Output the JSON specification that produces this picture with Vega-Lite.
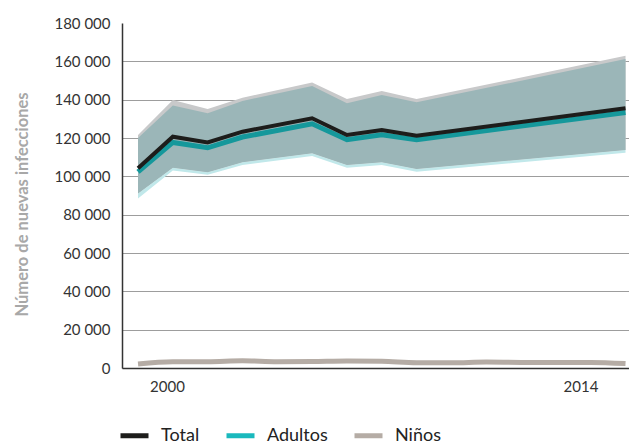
{
  "$schema": "https://vega.github.io/schema/vega-lite/v6.json",
  "width": 507,
  "height": 345,
  "autosize": {"type": "none"},
  "padding": {"left": 122, "top": 23, "right": 0, "bottom": 73},
  "background": "white",
  "config": {
    "view": {"stroke": null},
    "font": "Lato",
    "locale": {"number": {"decimal": ",", "thousands": " ", "grouping": [3], "currency": ["", " €"]}},
    "axis": {"labelFont": "Lato", "titleFont": "Lato"}
  },
  "datasets": {
    "bands": [
      {"year": 2000, "hiT": 121600, "hiA": 120000, "loA": 91100, "loC": 88500},
      {"year": 2001, "hiT": 139800, "hiA": 136900, "loA": 104500, "loC": 103000},
      {"year": 2002, "hiT": 135100, "hiA": 132900, "loA": 102100, "loC": 100800},
      {"year": 2003, "hiT": 141000, "hiA": 139300, "loA": 107300, "loC": 105900},
      {"year": 2005, "hiT": 149000, "hiA": 147100, "loA": 112000, "loC": 110600},
      {"year": 2006, "hiT": 140300, "hiA": 138100, "loA": 105900, "loC": 104500},
      {"year": 2007, "hiT": 144500, "hiA": 142400, "loA": 107300, "loC": 105900},
      {"year": 2008, "hiT": 140300, "hiA": 138600, "loA": 103800, "loC": 102400},
      {"year": 2014, "hiT": 162900, "hiA": 161200, "loA": 113700, "loC": 112300}
    ],
    "lines": [
      {"year": 2000, "series": "Total", "value": 104200},
      {"year": 2001, "series": "Total", "value": 120700},
      {"year": 2002, "series": "Total", "value": 117700},
      {"year": 2003, "series": "Total", "value": 123300},
      {"year": 2005, "series": "Total", "value": 130300},
      {"year": 2006, "series": "Total", "value": 121600},
      {"year": 2007, "series": "Total", "value": 124200},
      {"year": 2008, "series": "Total", "value": 121200},
      {"year": 2014, "series": "Total", "value": 135500},
      {"year": 2000, "series": "Adultos", "value": 102300},
      {"year": 2001, "series": "Adultos", "value": 117700},
      {"year": 2002, "series": "Adultos", "value": 114900},
      {"year": 2003, "series": "Adultos", "value": 120500},
      {"year": 2005, "series": "Adultos", "value": 127400},
      {"year": 2006, "series": "Adultos", "value": 119100},
      {"year": 2007, "series": "Adultos", "value": 121700},
      {"year": 2008, "series": "Adultos", "value": 119100},
      {"year": 2014, "series": "Adultos", "value": 133300},
      {"year": 2000, "series": "Niños", "value": 2100},
      {"year": 2001, "series": "Niños", "value": 3300},
      {"year": 2002, "series": "Niños", "value": 3300},
      {"year": 2003, "series": "Niños", "value": 3800},
      {"year": 2004, "series": "Niños", "value": 3300},
      {"year": 2005, "series": "Niños", "value": 3400},
      {"year": 2006, "series": "Niños", "value": 3700},
      {"year": 2007, "series": "Niños", "value": 3500},
      {"year": 2008, "series": "Niños", "value": 2800},
      {"year": 2009, "series": "Niños", "value": 2700},
      {"year": 2010, "series": "Niños", "value": 3100},
      {"year": 2011, "series": "Niños", "value": 2900},
      {"year": 2012, "series": "Niños", "value": 2900},
      {"year": 2013, "series": "Niños", "value": 2900},
      {"year": 2014, "series": "Niños", "value": 2300}
    ]
  },
  "encoding": {
    "x": {
      "field": "year",
      "type": "quantitative",
      "scale": {"domain": [1999.54, 2014.1], "nice": false, "zero": false},
      "axis": {
        "title": null,
        "values": [2000, 2014],
        "format": "d",
        "grid": false,
        "ticks": false,
        "domainColor": "#333333",
        "domainWidth": 1.5,
        "labelFontSize": 15,
        "labelColor": "#333333",
        "labelPadding": 11,
        "labelOffset": {"condition": {"test": "datum.value == 2000", "value": 29}, "value": -45}
      }
    },
    "y": {
      "type": "quantitative",
      "scale": {"domain": [0, 180000], "nice": false},
      "axis": {
        "title": "Número de nuevas infecciones",
        "titleFontSize": 16.5,
        "titleFontWeight": "bold",
        "titleColor": "#a8a8a8",
        "titlePadding": 23,
        "titleY": 181,
        "tickCount": 9,
        "format": ",d",
        "labelOverlap": false,
        "labelFontSize": 15,
        "labelColor": "#333333",
        "labelPadding": 12,
        "ticks": false,
        "domainColor": "#333333",
        "domainWidth": 1.5,
        "grid": true,
        "gridColor": {"condition": {"test": "datum.value >= 180000", "value": "transparent"}, "value": "#9d9d9d"},
        "gridWidth": 1
      }
    }
  },
  "layer": [
    {
      "data": {"name": "bands"},
      "mark": {"type": "area", "color": "#c8c9ca"},
      "encoding": {
        "y": {"field": "hiT"},
        "y2": {"field": "loA"}
      }
    },
    {
      "data": {"name": "bands"},
      "mark": {"type": "area", "color": "#c1e8ea"},
      "encoding": {
        "y": {"field": "loA"},
        "y2": {"field": "loC"}
      }
    },
    {
      "data": {"name": "bands"},
      "mark": {"type": "area", "color": "#9bb6b8"},
      "encoding": {
        "y": {"field": "hiA"},
        "y2": {"field": "loA"}
      }
    },
    {
      "data": {"name": "lines"},
      "transform": [{"filter": "datum.series == 'Niños'"}],
      "mark": {"type": "line", "strokeWidth": 5, "interpolate": "monotone"},
      "encoding": {
        "y": {"field": "value"},
        "color": {
          "field": "series",
          "type": "nominal",
          "scale": {"domain": ["Total", "Adultos", "Niños"], "range": ["#1d1d1b", "#1ab9bd", "#b5aca5"]},
          "legend": {
            "title": null,
            "orient": "none",
            "direction": "horizontal",
            "legendX": -4,
            "legendY": 396,
            "padding": 0,
            "symbolType": "M-1,0H1",
            "symbolSize": 784,
            "symbolStrokeWidth": 5,
            "labelFontSize": 18,
            "labelColor": "#222222",
            "labelOffset": 10,
            "columnPadding": 16
          }
        }
      }
    },
    {
      "data": {"name": "lines"},
      "transform": [{"filter": "datum.series == 'Adultos'"}],
      "mark": {"type": "line", "strokeWidth": 5, "color": "#15989b"},
      "encoding": {
        "y": {"field": "value"}
      }
    },
    {
      "data": {"name": "lines"},
      "transform": [{"filter": "datum.series == 'Total'"}],
      "mark": {"type": "line", "strokeWidth": 4, "color": "#1d1d1b"},
      "encoding": {
        "y": {"field": "value"}
      }
    }
  ]
}
